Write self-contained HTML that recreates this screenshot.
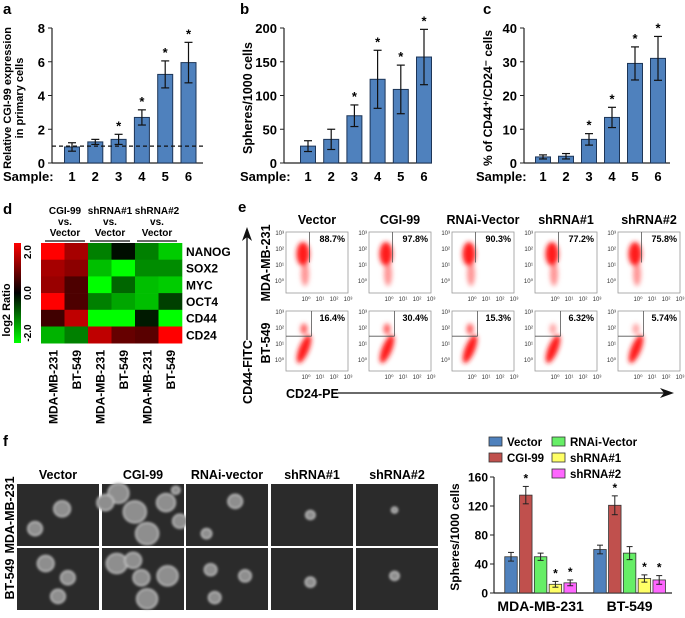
<!DOCTYPE html>
<html><head><meta charset="utf-8">
<style>
body{margin:0;background:#fff;}
svg text{font-family:"Liberation Sans",Arial,sans-serif;}
</style></head>
<body>
<svg id="fig" width="685" height="613" viewBox="0 0 685 613" xmlns="http://www.w3.org/2000/svg">
<defs>
<filter id="blur1" x="-50%" y="-50%" width="200%" height="200%"><feGaussianBlur stdDeviation="2.5"/></filter>
<filter id="blur2" x="-50%" y="-50%" width="200%" height="200%"><feGaussianBlur stdDeviation="1.2"/></filter>
<linearGradient id="cbar" x1="0" y1="0" x2="0" y2="1">
<stop offset="0" stop-color="#ff0000"/><stop offset="0.5" stop-color="#000"/><stop offset="1" stop-color="#00ff00"/>
</linearGradient>
</defs>
<g id="root"></g>
</svg>
<script>
// ---------- DATA ----------
const sampleLabels = ['1','2','3','4','5','6'];
const aValues = [0.95,1.25,1.4,2.7,5.25,5.95];
const aErrors = [0.25,0.15,0.3,0.45,0.8,1.2];
const aSig = [false,false,true,true,true,true];
const aTicks = [0,2,4,6,8];
const bValues = [25,35,70,124,109,157];
const bErrors = [8,15,16,43,36,41];
const bSig = [false,false,true,true,true,true];
const bTicks = [0,50,100,150,200];
const cValues = [1.8,2.0,7.0,13.5,29.5,31.0];
const cErrors = [0.6,0.8,1.7,3.0,4.9,6.5];
const cSig = [false,false,true,true,true,true];
const cTicks = [0,10,20,30,40];

const heatGenes = ['NANOG','SOX2','MYC','OCT4','CD44','CD24'];
const heatCols = ['MDA-MB-231','BT-549','MDA-MB-231','BT-549','MDA-MB-231','BT-549'];
const heatValues = [
 [2.0,1.3,-1.0,-0.1,-1.0,-1.6],
 [1.3,1.1,-1.5,-2.0,-1.1,-1.1],
 [1.2,0.6,-2.0,-0.8,-1.5,-1.6],
 [2.0,0.6,-1.0,-1.3,-1.5,-0.5],
 [0.5,1.5,-2.0,-2.0,-0.2,-2.0],
 [-1.4,-1.0,1.5,0.8,0.7,2.0]
];

const flowTitles = ['Vector','CGI-99','RNAi-Vector','shRNA#1','shRNA#2'];
const flowTop = ['88.7%','97.8%','90.3%','77.2%','75.8%'];
const flowBottom = ['16.4%','30.4%','15.3%','6.32%','5.74%'];

const photoTitles = ['Vector','CGI-99','RNAi-vector','shRNA#1','shRNA#2'];

const fGroups = ['MDA-MB-231','BT-549'];
const fSeries = ['Vector','CGI-99','RNAi-Vector','shRNA#1','shRNA#2'];
const fVector = [50,60];
const fCGI = [135,121];
const fRNAi = [50,55];
const fSh1 = [12,20];
const fSh2 = [14,18];
const fErrVector = [6,6];
const fErrCGI = [12,13];
const fErrRNAi = [5,9];
const fErrSh1 = [4,5];
const fErrSh2 = [4,6];
const fSigVector=[false,false], fSigCGI=[true,true], fSigRNAi=[false,false], fSigSh1=[true,true], fSigSh2=[true,true];
const fTicks = [0,40,80,120,160];

// ---------- helpers ----------
const NS='http://www.w3.org/2000/svg';
const root=document.getElementById('root');
function el(tag,attrs,parent){const e=document.createElementNS(NS,tag);for(const k in attrs)e.setAttribute(k,attrs[k]);(parent||root).appendChild(e);return e;}
function txt(s,attrs,parent){const e=el('text',attrs,parent);e.textContent=s;return e;}

[['a',3,14],['b',240,14],['c',483,14],['d',3,214],['e',238,212],['f',3,446]].forEach(p=>{
 const t=txt(p[0],{x:p[1],y:p[2],'font-size':15,'font-weight':'bold'});
 
 
});

// ---------- bar panels a,b,c ----------
function barPanel(id,x0,x1,vals,errs,sig,ticks,centersStart,step,ylabLines,ylabX,sampleX,ylabSize){
 const g=el('g',{});
 
 
 const yTop=28,yBot=163,max=ticks[ticks.length-1];
 const ys=v=>yBot-(v/max)*(yBot-yTop);
 const xs=i=>centersStart+i*step;
 el('line',{x1:x0,y1:yTop,x2:x0,y2:yBot,stroke:'#222','stroke-width':1.2},g);
 el('line',{x1:x0,y1:yBot,x2:x1,y2:yBot,stroke:'#222','stroke-width':1.2},g);
 ticks.forEach(t=>{
  el('line',{x1:x0-4,y1:ys(t),x2:x0,y2:ys(t),stroke:'#222'},g);
  const tl=txt(String(t),{x:x0-7,y:ys(t)+5,'font-size':13,'font-weight':'bold','text-anchor':'end'},g);
  
  
 });
 vals.forEach((v,i)=>{
  const cx=xs(i),w=15;
  const r=el('rect',{x:cx-w/2,y:ys(v),width:w,height:yBot-ys(v),fill:'#4f81bd',stroke:'#1d3557','stroke-width':1},g);
  
  
  const eT=ys(v+errs[i]),eB=ys(v-errs[i]);
  el('line',{x1:cx,y1:eT,x2:cx,y2:eB,stroke:'#111','stroke-width':1.2},g);
  el('line',{x1:cx-4,y1:eT,x2:cx+4,y2:eT,stroke:'#111','stroke-width':1.2},g);
  el('line',{x1:cx-4,y1:eB,x2:cx+4,y2:eB,stroke:'#111','stroke-width':1.2},g);
  if(sig[i]){const s=txt('*',{x:cx,y:eT-4,'font-size':13,'font-weight':'bold','text-anchor':'middle'},g);
   
   }
  const sl=txt(sampleLabels[i],{x:cx,y:181,'font-size':13,'font-weight':'bold','text-anchor':'middle'},g);
  
  
 });
 const sm=txt('Sample:',{x:sampleX,y:181,'font-size':13,'font-weight':'bold'},g);
 
 
 ylabLines.forEach((l,k)=>{
  const yt=el('text',{x:0,y:0,'font-size':ylabSize,'font-weight':'bold','text-anchor':'middle',transform:`translate(${ylabX+k*12},98) rotate(-90)`},g);
  yt.textContent=l;
  
  
 });
 return {g,ys,xs};
}
const pa=barPanel('a',52,203,aValues,aErrors,aSig,aTicks,72,23.3,['Relative CGI-99 expression','in primary cells'],11,3,11);
const dl=el('line',{x1:52,y1:pa.ys(1),x2:203,y2:pa.ys(1),stroke:'#111','stroke-width':1.3,'stroke-dasharray':'4,3'},pa.g);


barPanel('b',284,432,bValues,bErrors,bSig,bTicks,308,23.2,['Spheres/1000 cells'],252,240,12.5);
barPanel('c',524,670,cValues,cErrors,cSig,cTicks,543,23,['% of CD44⁺/CD24⁻ cells'],492,476,12);

// ---------- heatmap d ----------
(function(){
 const g=el('g',{});
 
 
 const hx=41,hy=243,cw=23.5,rh=16.7;
 const col=v=>v>=0?`rgb(${Math.round(255*Math.min(v,2)/2)},0,0)`:`rgb(0,${Math.round(255*Math.min(-v,2)/2)},0)`;
 heatValues.forEach((row,r)=>row.forEach((v,c)=>{
  const cell=el('rect',{x:hx+c*cw,y:hy+r*rh,width:cw+0.3,height:rh+0.3,fill:col(v)},g);
  
  
 }));
 heatGenes.forEach((gn,r)=>{const t=txt(gn,{x:186,y:hy+r*rh+rh/2+4.5,'font-size':12,'font-weight':'bold'},g);
  
  });
 heatCols.forEach((cn,c)=>{const t=el('text',{x:0,y:0,'font-size':12,'font-weight':'bold','text-anchor':'end',transform:`translate(${hx+c*cw+cw/2+4.5},350) rotate(-90)`},g);
  t.textContent=cn;
  
  });
 const heads=[['CGI-99',65],['shRNA#1',110],['shRNA#2',157]];
 heads.forEach(h=>{
  [[h[0],214],['vs.',225],['Vector',236]].forEach(l=>{
   const t=txt(l[0],{x:h[1],y:l[1],'font-size':10,'font-weight':'bold','text-anchor':'middle'},g);
   
   
  });
  el('line',{x1:h[1]-20,y1:241,x2:h[1]+20,y2:241,stroke:'#111','stroke-width':1.3},g);
 });
 const cb=el('rect',{x:14,y:243,width:7,height:100,fill:'url(#cbar)'},g);
 
 
 [['2.0',252],['0.0',293],['-2.0',333]].forEach(t=>{
  const e=el('text',{x:0,y:0,'font-size':10,'font-weight':'bold','text-anchor':'middle',transform:`translate(31,${t[1]}) rotate(-90)`},g);
  e.textContent=t[0];
  
  
 });
 const lr=el('text',{x:0,y:0,'font-size':11,'font-weight':'bold','text-anchor':'middle',transform:`translate(10,310) rotate(-90)`},g);
 lr.textContent='log2 Ratio';
 
 
})();

// ---------- flow cytometry e ----------
(function(){
 const g=el('g',{});
 
 
 const lefts=[286,369,452,535,618],w=62;
 const rows=[{y:232,h:61,pct:flowTop,bt:false},{y:311,h:60,pct:flowBottom,bt:true}];
 flowTitles.forEach((t,i)=>{const e=txt(t,{x:lefts[i]+w/2,y:224,'font-size':12.5,'font-weight':'bold','text-anchor':'middle'},g);
  
  });
 rows.forEach((r,ri)=>{
  lefts.forEach((lx,i)=>{
   const box=el('rect',{x:lx,y:r.y,width:w,height:r.h,fill:'#fff',stroke:'#999','stroke-width':0.8},g);
   
   
   const gx=lx+w*0.38+(ri==1?2:0);
   const cg=el('g',{filter:'url(#blur1)'},g);
   if(!r.bt){
    el('ellipse',{cx:lx+19,cy:r.y+42,rx:4,ry:12,fill:'#ff7a7a',opacity:0.8},cg);
    el('ellipse',{cx:lx+17,cy:r.y+22,rx:6.5,ry:12,fill:'#ff1a1a'},cg);
   }else{
    el('ellipse',{cx:lx+18,cy:r.y+18,rx:3.5,ry:5.5,fill:'#ff5050',opacity:i>2?0.5:0.9},cg);
    el('ellipse',{cx:lx+18,cy:r.y+38,rx:5,ry:15,fill:'#ff1a1a',transform:`rotate(22 ${lx+18} ${r.y+38})`},cg);
   }
   el('line',{x1:gx,y1:r.y,x2:gx,y2:r.y+(r.bt?r.h*0.42:r.h*0.5),stroke:'#555','stroke-width':0.8},g);
   if(r.bt) el('line',{x1:lx,y1:r.y+r.h*0.42,x2:gx,y2:r.y+r.h*0.42,stroke:'#555','stroke-width':0.8},g);
   const p=txt(r.pct[i],{x:lx+w-3,y:r.y+10,'font-size':9,'font-weight':'bold','text-anchor':'end'},g);
   
   
   ['10³','10²','10¹','10⁰'].forEach((tl,k)=>{txt(tl,{x:lx-2,y:r.y+3+k*16,'font-size':6,'text-anchor':'end',fill:'#333'},g);});
   ['10⁰','10¹','10²','10³'].forEach((tl,k)=>{txt(tl,{x:lx+20+k*14,y:r.y+r.h+8,'font-size':6,'text-anchor':'middle',fill:'#333'},g);});
  });
 });
 [['MDA-MB-231',263],['BT-549',343]].forEach(l=>{
  const e=el('text',{x:0,y:0,'font-size':12.5,'font-weight':'bold','text-anchor':'middle',transform:`translate(270,${l[1]}) rotate(-90)`},g);
  e.textContent=l[0];
  
  
 });
 const yl=el('text',{x:0,y:0,'font-size':12.5,'font-weight':'bold','text-anchor':'middle',transform:`translate(252,372) rotate(-90)`},g);
 yl.textContent='CD44-FITC';
 
 
 el('line',{x1:247,y1:340,x2:247,y2:236,stroke:'#111','stroke-width':1.3},g);
 el('polygon',{points:'247,227 242,241 247,237 252,241',fill:'#111'},g);
 const xl=txt('CD24-PE',{x:286,y:398,'font-size':12.5,'font-weight':'bold'},g);
 
 
 el('line',{x1:338,y1:393,x2:665,y2:393,stroke:'#111','stroke-width':1.3},g);
 el('polygon',{points:'674,393 660,388 664,393 660,398',fill:'#111'},g);
})();

// ---------- photos f ----------
(function(){
 const g=el('g',{});
 
 
 const lefts=[17,102,186,271,356],w=82;
 const rowsY=[[484,62],[548,62]];
 photoTitles.forEach((t,i)=>{const e=txt(t,{x:lefts[i]+w/2,y:479,'font-size':12.5,'font-weight':'bold','text-anchor':'middle'},g);
  
  });
 const spheres=[
  [[[0.55,0.4,8],[0.22,0.72,7]],[[0.2,0.15,10],[0.4,0.45,11],[0.55,0.8,11],[0.78,0.3,9],[0.95,0.6,7],[0.9,0.1,4],[0.04,0.3,8]],[[0.6,0.28,7],[0.25,0.8,5]],[[0.48,0.5,4.5]],[[0.47,0.42,3]]],
  [[[0.35,0.25,8],[0.62,0.48,7],[0.5,0.78,7]],[[0.18,0.25,10],[0.38,0.2,8],[0.48,0.48,8],[0.8,0.45,10],[0.55,0.82,10]],[[0.3,0.35,6],[0.72,0.45,6],[0.35,0.8,6]],[[0.48,0.55,5]],[[0.47,0.45,4.5]]]
 ];
 rowsY.forEach((ry,r)=>lefts.forEach((lx,i)=>{
  const im=el('rect',{x:lx,y:ry[0],width:w,height:ry[1],fill:'#2b2b2b'},g);
  
  
  const sg=el('g',{filter:'url(#blur2)'},g);
  spheres[r][i].forEach(s=>{el('ellipse',{cx:lx+s[0]*w,cy:ry[0]+s[1]*ry[1],rx:s[2]*1.05,ry:s[2],fill:'#8e8e8e',stroke:'#cfcfcf','stroke-width':1.2},sg);});
 }));
 [['MDA-MB-231',515],['BT-549',579]].forEach(l=>{
  const e=el('text',{x:0,y:0,'font-size':12.5,'font-weight':'bold','text-anchor':'middle',transform:`translate(14,${l[1]}) rotate(-90)`},g);
  e.textContent=l[0];
  
  
 });
})();

// ---------- grouped bar chart f ----------
(function(){
 const g=el('g',{});
 
 
 const x0=494,x1=672,yTop=477,yBot=593,max=fTicks[fTicks.length-1];
 const ys=v=>yBot-(v/max)*(yBot-yTop);
 const vals=[fVector,fCGI,fRNAi,fSh1,fSh2];
 const errs=[fErrVector,fErrCGI,fErrRNAi,fErrSh1,fErrSh2];
 const sigs=[fSigVector,fSigCGI,fSigRNAi,fSigSh1,fSigSh2];
 const colors=['#4f81bd','#c0504d','#66ee66','#ffff66','#ff66ff'];
 const groupStart=[511,600],step=14.8,bw=12.5;
 el('line',{x1:x0,y1:yTop,x2:x0,y2:yBot,stroke:'#222','stroke-width':1.2},g);
 el('line',{x1:x0,y1:yBot,x2:x1,y2:yBot,stroke:'#222','stroke-width':1.2},g);
 fTicks.forEach(t=>{
  el('line',{x1:x0-4,y1:ys(t),x2:x0,y2:ys(t),stroke:'#222'},g);
  const tl=txt(String(t),{x:x0-6,y:ys(t)+4.5,'font-size':12,'font-weight':'bold','text-anchor':'end'},g);
  
  
 });
 fGroups.forEach((gr,gi)=>{
  vals.forEach((sv,si)=>{
   const cx=groupStart[gi]+si*step,v=sv[gi];
   const r=el('rect',{x:cx-bw/2,y:ys(v),width:bw,height:yBot-ys(v),fill:colors[si],stroke:'#333','stroke-width':0.8},g);
   
   
   const e=errs[si][gi],eT=ys(v+e),eB=ys(v-e);
   el('line',{x1:cx,y1:eT,x2:cx,y2:eB,stroke:'#222','stroke-width':1},g);
   el('line',{x1:cx-3,y1:eT,x2:cx+3,y2:eT,stroke:'#222','stroke-width':1},g);
   el('line',{x1:cx-3,y1:eB,x2:cx+3,y2:eB,stroke:'#222','stroke-width':1},g);
   if(sigs[si][gi]){const s=txt('*',{x:cx,y:eT-4,'font-size':12,'font-weight':'bold','text-anchor':'middle'},g);
    
    }
  });
  const gl=txt(gr,{x:groupStart[gi]+2*step,y:611,'font-size':14,'font-weight':'bold','text-anchor':'middle'},g);
  
  
 });
 const yl=el('text',{x:0,y:0,'font-size':12,'font-weight':'bold','text-anchor':'middle',transform:`translate(459,537) rotate(-90)`},g);
 yl.textContent='Spheres/1000 cells';
 
 
 const legPos=[[495,442],[495,458],[558,442],[558,458],[558,474]];
 fSeries.forEach((s,i)=>{
  const lg=el('g',{},g);
  
  
  el('rect',{x:legPos[i][0]-6,y:legPos[i][1]-5,width:13,height:9,fill:colors[i],stroke:'#333','stroke-width':0.8},lg);
  txt(s,{x:legPos[i][0]+12,y:legPos[i][1]+4,'font-size':11.5,'font-weight':'bold'},lg);
 });
})();
</script>
</body></html>
